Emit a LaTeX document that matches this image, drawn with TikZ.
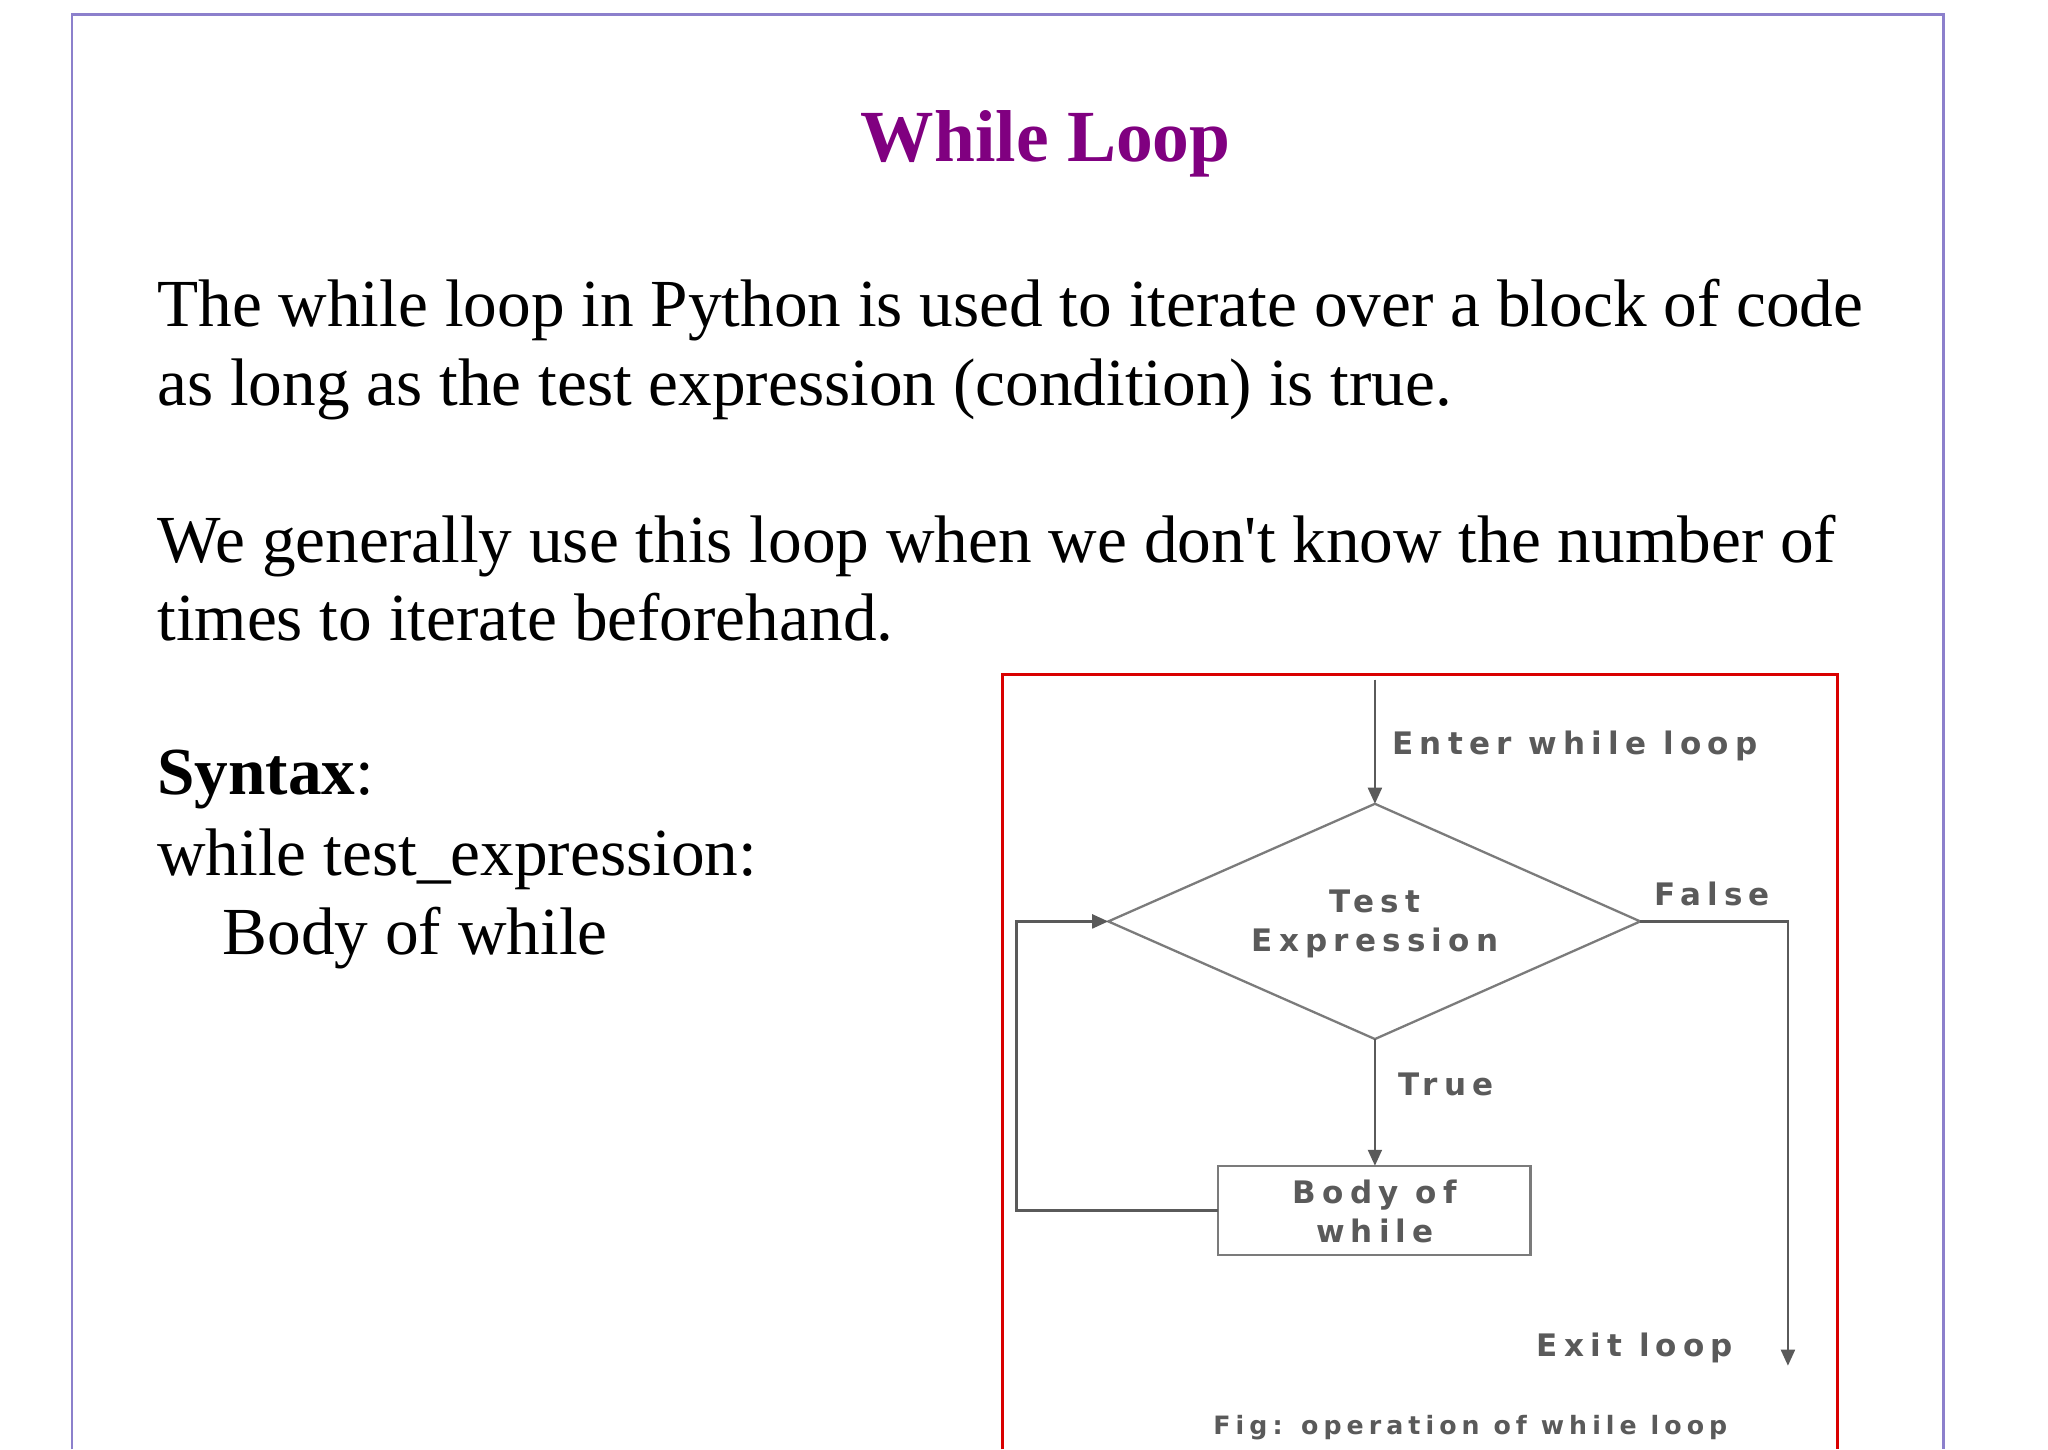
\documentclass[tikz,border=0pt]{standalone}
\usepackage{fontspec}
\setmainfont{Liberation Serif}
\newfontfamily\flowfont[LetterSpace=20]{DejaVu Sans}
\usetikzlibrary{arrows.meta}
\definecolor{frame}{HTML}{8C80CC}
\definecolor{ttl}{HTML}{800080}
\definecolor{fg}{HTML}{5A5A5A}
\begin{document}
\begin{tikzpicture}[x=0.02cm,y=-0.02cm,
  body/.style={anchor=base west,inner sep=0pt,font=\fontsize{29.3}{34}\selectfont},
  fl/.style={draw=fg,line width=1.2pt},
  fa/.style={fl,-{Triangle[length=7pt,width=6pt]}},
  ftxt/.style={text=fg,font=\flowfont\bfseries\fontsize{13.5}{17}\selectfont,inner sep=0pt,align=center}]
\useasboundingbox (0,0) rectangle (1567,1109);
\fill[white] (0,0) rectangle (1567,1109);
\draw[frame,line width=1.2pt] (55,1109) -- (55,11) -- (1487,11) -- (1487,1109);
\node[font=\bfseries\fontsize{32}{38}\selectfont,text=ttl] (title) at (800,110) {While Loop};
\node[body] (t1) at (120,250) {The while loop in Python is used to iterate over a block of code};
\node[body] (t2) at (120,310) {as long as the test expression (condition) is true.};
\node[body] (t3) at (120,430) {We generally use this loop when we don\textquotesingle t know the number of};
\node[body] (t4) at (120,490) {times to iterate beforehand.};
\node[body] (t5) at (120,608) {\textbf{Syntax}:};
\node[body] (t6) at (120,670) {while test\_expression:};
\node[body] (t7) at (170,730) {Body of while};
\draw[red!85!black,line width=1.2pt] (767,1109) -- (767,516) -- (1406,516) -- (1406,1109);
\coordinate (start) at (1052,520);
\coordinate (dt) at (1052,615);
\coordinate (dl) at (848,705);
\coordinate (dr) at (1255,705);
\coordinate (db) at (1052,795);
\draw[draw=fg!80,line width=1pt] (dt) -- (dr) -- (db) -- (dl) -- cycle;
\node[ftxt] (test) at (1052,707) {Test\\Expression};
\draw[fa] (start) -- (dt);
\node[ftxt,anchor=west] (enter) at (1065,571) {Enter while loop};
\draw[draw=fg!80,line width=1pt] (932,892) rectangle (1171,960);
\node[ftxt] (bodyw) at (1052,927) {Body of\\while};
\coordinate (btop) at (1052,892);
\draw[fa] (db) -- (btop);
\node[ftxt,anchor=west] (true) at (1070,830) {True};
\coordinate (exit) at (1368,1045);
\draw[fa] (dr) -- (1368,705) -- (exit);
\node[ftxt] (false) at (1310,684) {False};
\node[ftxt] (exitl) at (1251,1031) {Exit loop};
\draw[fa] (932,926) -- (778,926) -- (778,705) -- (dl);
\node[ftxt,font=\flowfont\bfseries\fontsize{11}{14}\selectfont] (cap) at (1125,1092) {Fig: operation of while loop};
\end{tikzpicture}
\end{document}
